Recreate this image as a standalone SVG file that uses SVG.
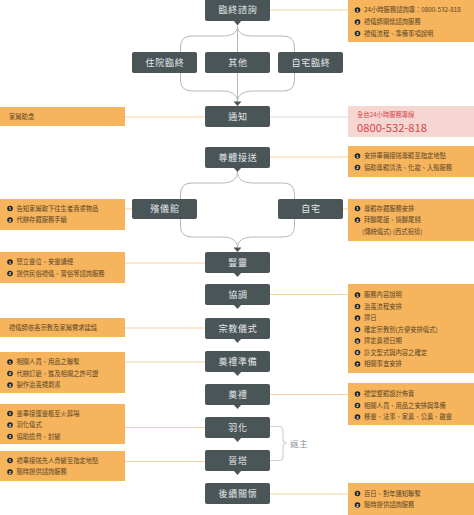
<svg xmlns="http://www.w3.org/2000/svg" width="474" height="515" viewBox="0 0 474 515">
<defs>
<style>
.node rect{fill:#4a5558;}
.node text{fill:#e4e8e9;font-family:"Noto Sans CJK TC","Noto Sans",sans-serif;font-size:9px;letter-spacing:0.8px;text-anchor:middle;}
.ptr{fill:#4a5558;}
.box rect{fill:#f6b45c;}
.box text{fill:#5b4428;font-family:"Noto Sans CJK TC","Noto Sans",sans-serif;font-size:6.3px;}
.box circle{fill:#222;}
.box text.num{fill:#fff;font-size:4.2px;font-weight:bold;text-anchor:middle;font-family:"Liberation Sans",sans-serif;}
.brace{fill:none;stroke:#b4b8ba;stroke-width:1;}
.lo{stroke:#f5d2a0;stroke-width:1;fill:none;}
.lg{stroke:#e6dcda;stroke-width:1;fill:none;}
.rt{fill:none;stroke:#cfd2d3;stroke-width:1.2;}
</style>
</defs>
<rect width="474" height="515" fill="#ffffff"/>

<g id="connectors">
<path class="brace" d="M237.5,26 C237.5,33 232,36 222,36 L192,36 Q180.5,36 180.5,47 L180.5,80 Q180.5,91 192,91 L222,91 C232,91 237.5,95 237.5,101.5"/>
<path class="brace" d="M237.5,26 C237.5,33 243,36 253,36 L283,36 Q294.5,36 294.5,47 L294.5,80 Q294.5,91 283,91 L253,91 C243,91 237.5,95 237.5,101.5"/>
<path class="brace" d="M237.5,26 L237.5,101.5"/>
<path class="brace" d="M237.5,172 C237.5,179 232,183 222,183 L192,183 Q180.5,183 180.5,194 L180.5,226 Q180.5,237 192,237 L222,237 C232,237 237.5,241 237.5,247.5"/>
<path class="brace" d="M237.5,172 C237.5,179 243,183 253,183 L283,183 Q294.5,183 294.5,194 L294.5,226 Q294.5,237 283,237 L253,237 C243,237 237.5,241 237.5,247.5"/>
<path class="lo" d="M270,10 H348"/>
<path class="lo" d="M125,117 H205"/>
<path class="lg" d="M270,117 H348"/>
<path class="lo" d="M270,157 H348"/>
<path class="lo" d="M125,209 H132"/>
<path class="lo" d="M343,209 H348"/>
<path class="lo" d="M125,263 H205"/>
<path class="lo" d="M270,294.5 H348"/>
<path class="lo" d="M125,328 H205"/>
<path class="lo" d="M125,362 H205"/>
<path class="lo" d="M270,394.5 H348"/>
<path class="lo" d="M125,427.5 H205"/>
<path class="lo" d="M125,461.5 H205"/>
<path class="lo" d="M270,494 H348"/>
<path class="rt" d="M270,426.5 H279 Q283,426.5 283,430.5 V439 Q283,443 287,443 Q283,443 283,447 V456.5 Q283,460.5 279,460.5 H270"/>
<path class="ptr" d="M233.5,101.5 H241.5 L237.5,106 Z"/>
<path class="ptr" d="M233.5,247.5 H241.5 L237.5,252 Z"/>
</g>

<g id="n1" class="node"><rect x="205" y="-3" width="65" height="24" rx="2"/><path class="ptr" d="M233.5,20.5 H241.5 L237.5,25.5 Z"/><text x="238" y="13">臨終諮詢</text></g>
<g id="n2" class="node"><rect x="132" y="52" width="65" height="21" rx="2"/><text x="165" y="65.5">住院臨終</text></g>
<g id="n3" class="node"><rect x="205" y="52" width="65" height="21" rx="2"/><text x="238" y="65.5">其他</text></g>
<g id="n4" class="node"><rect x="278" y="52" width="65" height="21" rx="2"/><text x="311" y="65.5">自宅臨終</text></g>
<g id="n5" class="node"><rect x="205" y="106" width="65" height="21" rx="2"/><text x="238" y="119.5">通知</text></g>
<g id="n6" class="node"><rect x="205" y="147" width="65" height="21" rx="2"/><path class="ptr" d="M233.5,167.5 H241.5 L237.5,172 Z"/><text x="238" y="160.5">尊體接送</text></g>
<g id="n7" class="node"><rect x="132" y="199" width="65" height="20" rx="2"/><text x="165" y="212">殯儀館</text></g>
<g id="n8" class="node"><rect x="278" y="199" width="65" height="20" rx="2"/><text x="311" y="212">自宅</text></g>
<g id="n9" class="node"><rect x="205" y="252" width="65" height="21" rx="2"/><path class="ptr" d="M233.5,272.5 H241.5 L237.5,277 Z"/><text x="238" y="265.5">豎靈</text></g>
<g id="n10" class="node"><rect x="205" y="284" width="65" height="21" rx="2"/><path class="ptr" d="M233.5,304.5 H241.5 L237.5,309 Z"/><text x="238" y="297.5">協調</text></g>
<g id="n11" class="node"><rect x="205" y="318" width="65" height="21" rx="2"/><path class="ptr" d="M233.5,338.5 H241.5 L237.5,343 Z"/><text x="238" y="331.5">宗教儀式</text></g>
<g id="n12" class="node"><rect x="205" y="351" width="65" height="21" rx="2"/><path class="ptr" d="M233.5,371.5 H241.5 L237.5,376 Z"/><text x="238" y="364.5">奠禮準備</text></g>
<g id="n13" class="node"><rect x="205" y="384" width="65" height="21" rx="2"/><path class="ptr" d="M233.5,404.5 H241.5 L237.5,409 Z"/><text x="238" y="397.5">奠禮</text></g>
<g id="n14" class="node"><rect x="205" y="417" width="65" height="21" rx="2"/><path class="ptr" d="M233.5,437.5 H241.5 L237.5,442 Z"/><text x="238" y="430.5">羽化</text></g>
<g id="n15" class="node"><rect x="205" y="450" width="65" height="21" rx="2"/><path class="ptr" d="M233.5,470.5 H241.5 L237.5,475 Z"/><text x="238" y="463.5">晉塔</text></g>
<g id="n16" class="node"><rect x="205" y="483" width="65" height="21" rx="2"/><text x="238" y="496.5">後續關懷</text></g>

<g id="label-return"><text x="290" y="446.5" fill="#8a8f91" font-family="Noto Sans CJK TC, Noto Sans, sans-serif" font-size="8.5" letter-spacing="0.8">返主</text></g>

<g id="b1" class="box"><rect x="348" y="-2" width="126" height="44"/>
<circle cx="357.5" cy="10" r="2.8"/><text class="num" x="357.5" y="11.5">1</text><text x="364" y="12.2">24小時服務諮詢專：0800-532-818</text>
<circle cx="357.5" cy="22" r="2.8"/><text class="num" x="357.5" y="23.5">2</text><text x="364" y="24.2">禮儀師關懷諮詢服務</text>
<circle cx="357.5" cy="33.5" r="2.8"/><text class="num" x="357.5" y="35">3</text><text x="364" y="35.7">禮儀流程、準備事項說明</text></g>

<g id="b2" class="box"><rect x="0" y="107" width="125" height="19"/><text x="9" y="118.7">家屬助念</text></g>

<g id="b3"><rect x="348" y="106" width="126" height="31" fill="#f6d6d1"/>
<text x="357" y="117" fill="#d8434c" font-family="Noto Sans CJK TC, Noto Sans, sans-serif" font-size="6.3">全台24小時服務專線</text>
<text x="357" y="132" fill="#d8434c" font-family="Noto Sans CJK TC, Noto Sans, sans-serif" font-size="11.2">0800-532-818</text></g>

<g id="b4" class="box"><rect x="348" y="146" width="126" height="31"/>
<circle cx="357.5" cy="156" r="2.8"/><text class="num" x="357.5" y="157.5">1</text><text x="364" y="158.2">安排車輛接送尊體至指定地點</text>
<circle cx="357.5" cy="167.5" r="2.8"/><text class="num" x="357.5" y="169">2</text><text x="364" y="169.7">協助尊體清洗、化妝、入殮服務</text></g>

<g id="b5" class="box"><rect x="0" y="199" width="125" height="31"/>
<circle cx="10" cy="208.5" r="2.8"/><text class="num" x="10" y="210">1</text><text x="16.5" y="210.7">告知家屬取下往生者貴重物品</text>
<circle cx="10" cy="220" r="2.8"/><text class="num" x="10" y="221.5">2</text><text x="16.5" y="222.2">代辦存藏服務手續</text></g>

<g id="b6" class="box"><rect x="348" y="199" width="126" height="42"/>
<circle cx="357.5" cy="208.5" r="2.8"/><text class="num" x="357.5" y="210">1</text><text x="364" y="210.7">尊體存藏服務安排</text>
<circle cx="357.5" cy="220" r="2.8"/><text class="num" x="357.5" y="221.5">2</text><text x="364" y="222.2">拜腳尾飯、燒腳尾錢</text>
<text x="362" y="233.5">(傳統儀式) (西式祝禱)</text></g>

<g id="b7" class="box"><rect x="0" y="252" width="125" height="31"/>
<circle cx="10" cy="262" r="2.8"/><text class="num" x="10" y="263.5">1</text><text x="16.5" y="264.2">豎立靈位、安靈誦經</text>
<circle cx="10" cy="273.5" r="2.8"/><text class="num" x="10" y="275">2</text><text x="16.5" y="275.7">提供民俗禮儀、習俗等諮詢服務</text></g>

<g id="b8" class="box"><rect x="348" y="284" width="126" height="89"/>
<circle cx="357.5" cy="295" r="2.8"/><text class="num" x="357.5" y="296.5">1</text><text x="364" y="297.2">服務內容說明</text>
<circle cx="357.5" cy="306.5" r="2.8"/><text class="num" x="357.5" y="308">2</text><text x="364" y="308.7">治喪流程安排</text>
<circle cx="357.5" cy="318" r="2.8"/><text class="num" x="357.5" y="319.5">3</text><text x="364" y="320.2">擇日</text>
<circle cx="357.5" cy="329.5" r="2.8"/><text class="num" x="357.5" y="331">4</text><text x="364" y="331.7">確定宗教別(方便安排儀式)</text>
<circle cx="357.5" cy="341" r="2.8"/><text class="num" x="357.5" y="342.5">5</text><text x="364" y="343.2">擇定奠禮日期</text>
<circle cx="357.5" cy="352.5" r="2.8"/><text class="num" x="357.5" y="354">6</text><text x="364" y="354.7">訃文型式與內容之確定</text>
<circle cx="357.5" cy="364" r="2.8"/><text class="num" x="357.5" y="365.5">7</text><text x="364" y="366.2">相關事宜安排</text></g>

<g id="b9" class="box"><rect x="0" y="318" width="125" height="19"/><text x="9" y="329.7">禮儀師依各宗教及家屬需求建議</text></g>

<g id="b10" class="box"><rect x="0" y="352" width="125" height="41"/>
<circle cx="10" cy="362" r="2.8"/><text class="num" x="10" y="363.5">1</text><text x="16.5" y="364.2">相關人員、用品之聯繫</text>
<circle cx="10" cy="373.5" r="2.8"/><text class="num" x="10" y="375">2</text><text x="16.5" y="375.7">代辦訂廳、進及相關之許可證</text>
<circle cx="10" cy="385" r="2.8"/><text class="num" x="10" y="386.5">3</text><text x="16.5" y="387.2">製作治喪規劃書</text></g>

<g id="b11" class="box"><rect x="348" y="383" width="126" height="42"/>
<circle cx="357.5" cy="394" r="2.8"/><text class="num" x="357.5" y="395.5">1</text><text x="364" y="396.2">禮堂整體設計佈置</text>
<circle cx="357.5" cy="405.5" r="2.8"/><text class="num" x="357.5" y="407">2</text><text x="364" y="407.7">相關人員、用品之安排與準備</text>
<circle cx="357.5" cy="417" r="2.8"/><text class="num" x="357.5" y="418.5">3</text><text x="364" y="419.2">移靈、法事、家奠、公奠、啟靈</text></g>

<g id="b12" class="box"><rect x="0" y="404" width="125" height="40"/>
<circle cx="10" cy="413.5" r="2.8"/><text class="num" x="10" y="415">1</text><text x="16.5" y="415.7">靈車接運靈柩至火葬場</text>
<circle cx="10" cy="425" r="2.8"/><text class="num" x="10" y="426.5">2</text><text x="16.5" y="427.2">羽化儀式</text>
<circle cx="10" cy="436.5" r="2.8"/><text class="num" x="10" y="438">3</text><text x="16.5" y="438.7">協助撿骨、封罐</text></g>

<g id="b13" class="box"><rect x="0" y="451" width="125" height="30"/>
<circle cx="10" cy="460.5" r="2.8"/><text class="num" x="10" y="462">1</text><text x="16.5" y="462.7">禮車接送先人骨罐至指定地點</text>
<circle cx="10" cy="472" r="2.8"/><text class="num" x="10" y="473.5">2</text><text x="16.5" y="474.2">隨時提供諮詢服務</text></g>

<g id="b14" class="box"><rect x="348" y="483" width="126" height="34"/>
<circle cx="357.5" cy="493.5" r="2.8"/><text class="num" x="357.5" y="495">1</text><text x="364" y="495.7">百日、對年通知聯繫</text>
<circle cx="357.5" cy="505" r="2.8"/><text class="num" x="357.5" y="506.5">2</text><text x="364" y="507.2">隨時提供諮詢服務</text></g>
</svg>
